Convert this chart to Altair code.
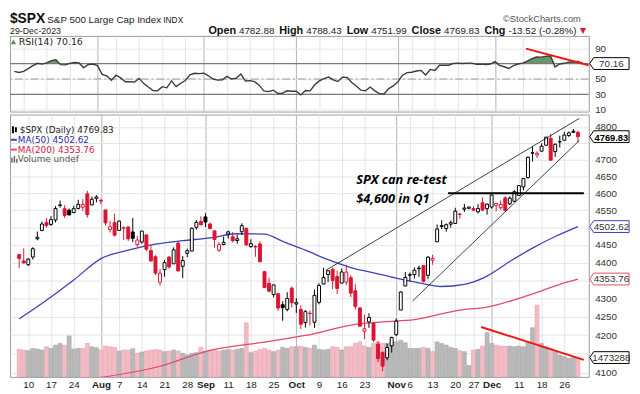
import json
import altair as alt
import pandas as pd

# ---------------- data ----------------
prev_close_first = 4446.82  # close before first candle

opens = [4422.62,4404.54,4394.23,4415.55,4467.69,4491.50,4514.61,4508.86,4521.78,4563.87,
         4554.38,4550.16,4543.39,4555.19,4558.96,4598.26,4565.75,4584.82,4578.83,4550.93,
         4494.27,4513.96,4491.58,4498.03,4501.57,4487.16,4450.69,4458.13,4478.87,4433.79,
         4416.32,4344.88,4380.28,4415.33,4396.44,4455.16,4389.38,4426.03,4432.75,4500.34,
         4517.01,4530.60,4510.06,4490.35,4434.55,4451.30,4480.98,4473.27,4462.65,4487.78,
         4497.98,4445.13,4445.41,4452.81,4374.36,4341.74,4310.62,4312.88,4282.63,4269.65,
         4328.18,4284.52,4269.75,4233.83,4259.31,4234.79,4289.02,4339.75,4366.59,4380.94,
         4360.49,4342.37,4345.23,4357.35,4321.36,4273.85,4210.40,4235.79,4232.42,4175.99,
         4152.93,4139.39,4171.33,4201.27,4268.26,4334.23,4364.27,4366.21,4384.37,4391.41,
         4364.15,4406.66,4458.97,4505.30,4497.08,4509.55,4511.70,4538.77,4553.04,4555.84,
         4554.86,4545.55,4571.84,4554.87,4559.43,4564.37,4557.25,4586.23,4568.84,4576.20,
         4593.39,4618.30,4646.20,4721.04,4714.23,4725.58,4743.72,4764.73,4724.29,4753.92,
         4758.86,4773.45,4786.44,4782.88]
highs = [4422.62,4440.39,4412.60,4443.64,4488.34,4517.38,4527.76,4532.85,4562.30,4578.43,
         4564.74,4555.00,4563.41,4580.62,4582.47,4607.07,4590.16,4594.22,4584.62,4550.93,
         4519.49,4540.34,4519.84,4503.31,4502.44,4527.37,4476.23,4490.33,4478.87,4449.95,
         4421.17,4381.82,4407.55,4418.59,4443.18,4458.30,4418.46,4439.56,4500.14,4521.65,
         4532.26,4541.25,4514.29,4490.35,4457.81,4473.53,4490.77,4487.11,4479.39,4511.99,
         4497.98,4466.36,4449.85,4461.03,4375.70,4357.40,4338.51,4313.01,4292.07,4317.27,
         4333.15,4300.58,4281.15,4268.50,4267.13,4324.10,4341.73,4385.46,4378.64,4385.85,
         4377.10,4383.33,4393.57,4364.20,4339.54,4276.56,4255.84,4259.38,4232.42,4183.60,
         4156.70,4177.47,4195.55,4245.64,4319.72,4373.62,4372.21,4386.26,4391.20,4393.40,
         4418.03,4421.76,4508.67,4521.17,4511.99,4520.12,4557.11,4542.14,4568.43,4560.31,
         4562.06,4568.14,4587.64,4569.89,4599.39,4572.37,4578.56,4590.74,4590.92,4609.23,
         4623.71,4643.93,4709.69,4738.57,4725.53,4749.52,4768.69,4778.01,4748.71,4772.94,
         4784.72,4785.39,4793.30,4788.43]
lows = [4385.05,4397.40,4389.92,4408.46,4463.23,4489.36,4499.56,4504.90,4514.59,4557.48,
        4527.56,4535.79,4541.29,4552.42,4547.58,4528.56,4564.01,4573.14,4567.53,4505.75,
        4485.54,4474.55,4491.15,4464.39,4461.33,4457.92,4443.98,4453.44,4432.19,4403.55,
        4364.83,4335.31,4360.30,4382.77,4396.44,4375.55,4356.29,4414.98,4431.68,4493.59,
        4507.39,4501.35,4496.01,4442.38,4430.46,4448.38,4467.89,4456.83,4453.52,4478.69,
        4447.21,4442.11,4416.61,4401.38,4329.17,4316.49,4302.70,4265.98,4238.63,4264.38,
        4274.86,4260.21,4216.45,4220.48,4225.91,4219.55,4283.79,4339.64,4345.34,4325.43,
        4311.97,4342.37,4337.54,4303.84,4269.69,4223.03,4189.22,4219.43,4181.42,4127.90,
        4103.78,4132.94,4153.12,4197.74,4268.26,4334.23,4347.53,4355.41,4359.76,4343.94,
        4353.34,4393.82,4458.97,4495.31,4487.83,4499.66,4510.36,4525.51,4545.05,4552.80,
        4546.50,4540.51,4547.15,4537.24,4554.71,4546.72,4551.68,4546.50,4565.22,4574.06,
        4593.39,4608.09,4643.23,4694.34,4704.69,4725.58,4743.72,4697.82,4708.35,4736.77,
        4758.45,4768.90,4780.98,4751.99]
closes = [4411.59,4398.95,4409.53,4439.26,4472.16,4510.04,4505.42,4522.79,4554.98,4565.72,
          4534.87,4536.34,4554.64,4567.46,4566.75,4537.41,4582.23,4588.96,4576.73,4513.39,
          4501.89,4478.03,4518.44,4499.38,4467.71,4468.83,4464.05,4489.72,4437.86,4404.33,
          4370.36,4369.71,4399.77,4387.55,4436.01,4376.31,4405.71,4433.31,4497.63,4514.87,
          4507.66,4515.77,4496.83,4465.48,4451.14,4457.49,4487.46,4461.90,4467.44,4505.10,
          4450.32,4453.53,4443.95,4402.20,4330.00,4320.06,4337.44,4273.53,4274.51,4299.70,
          4288.05,4288.39,4229.45,4263.75,4258.19,4308.50,4335.66,4358.24,4376.95,4349.61,
          4327.78,4373.63,4373.20,4314.60,4278.00,4224.16,4217.04,4247.68,4186.77,4137.23,
          4117.37,4166.82,4193.80,4237.86,4317.78,4358.34,4365.98,4378.38,4382.78,4347.35,
          4415.24,4411.55,4495.70,4502.88,4508.24,4514.02,4547.38,4538.19,4556.62,4559.34,
          4550.43,4554.89,4550.58,4567.80,4594.63,4569.78,4567.18,4549.34,4585.59,4604.37,
          4622.44,4643.70,4707.09,4719.55,4719.19,4740.56,4768.37,4698.35,4746.75,4754.63,
          4774.75,4781.58,4783.35,4769.83]
volumes = [2098000,2048000,1998000,2172000,2123000,2048000,2297000,2172000,2422000,2547000,
           2422000,3121000,2123000,2172000,2172000,2547000,2297000,2222000,2048000,2347000,
           2297000,2247000,1973000,2048000,2048000,2148000,1798000,1898000,1973000,2048000,
           2098000,2048000,1923000,1973000,2048000,1973000,1798000,1673000,1798000,1848000,
           2247000,1973000,2048000,2098000,1973000,2048000,2098000,2048000,2098000,2172000,
           4120000,1848000,1973000,2098000,2172000,2048000,1923000,2048000,2247000,2172000,
           2297000,2297000,2347000,2247000,2172000,2422000,2098000,2048000,2098000,2297000,
           2247000,2048000,2297000,2297000,2547000,2672000,2347000,2247000,2547000,2672000,
           2547000,2547000,2672000,2672000,2797000,2597000,2172000,2172000,2172000,2247000,
           2172000,1923000,2672000,2547000,2422000,2247000,2172000,1998000,1923000,874000,
           2048000,2098000,2347000,3371000,2547000,2422000,2347000,2347000,2347000,2297000,
           2347000,2297000,2672000,3746000,5469000,2547000,2297000,2172000,1923000,1673000,
           1548000,1423000,1473000,1473288]
rsi = [60.0,58.5,60.0,63.5,67.5,70.5,69.5,71.0,74.0,75.0,
       68.8,68.5,70.5,71.5,71.0,64.6,69.0,69.6,67.5,56.0,
       54.0,48.5,55.0,51.5,46.5,46.5,46.0,50.8,44.0,39.5,
       35.0,34.6,40.0,38.5,47.5,40.0,44.5,48.0,55.5,57.5,
       57.0,57.5,54.2,50.0,48.5,49.0,53.5,50.0,51.0,56.5,
       47.5,47.9,46.5,41.7,34.5,33.5,35.4,31.2,31.3,34.6,
       34.0,34.2,29.2,35.0,34.6,42.5,47.5,50.5,52.5,49.0,
       46.7,52.5,52.1,45.5,41.0,35.4,34.6,39.5,34.6,31.0,
       30.4,37.5,41.0,46.5,55.0,58.3,58.8,60.5,61.25,55.4,
       62.5,61.25,68.0,68.2,68.0,70.3,70.8,70.3,70.7,70.8,
       69.2,69.5,69.0,69.6,72.9,67.9,66.0,63.75,67.5,69.6,
       70.8,73.5,76.5,78.75,78.5,79.5,80.4,65.8,69.6,70.5,
       72.1,72.6,72.9,70.16]

ma50_idx = [0, 6, 12, 18, 24, 30, 36, 42, 48, 54, 58, 63, 68, 73, 78, 83, 88, 93, 98, 103, 108, 113, 118, 123]
ma50_val = [4244, 4295, 4351, 4411, 4435, 4452, 4462, 4470, 4482, 4481, 4460, 4435, 4408, 4386, 4371,
            4356, 4343, 4333, 4339, 4362, 4403, 4441, 4474, 4502.62]
ma200_idx = [17, 31, 41, 55, 63, 74, 80, 87, 97, 103, 110, 115, 120, 123]
ma200_val = [4086, 4117, 4156, 4183, 4199, 4229, 4236, 4242, 4268, 4276, 4300, 4321, 4343, 4353.76]

tick_idx = [2, 7, 12, 18, 22, 27, 32, 37, 41, 46, 51, 56, 61, 66, 71, 76, 83, 86, 91, 96, 100, 104, 110, 115, 120]
tick_text = ["10", "17", "24", "Aug", "7", "14", "21", "28", "Sep", "11", "18", "25", "Oct", "9",
             "16", "23", "Nov", "6", "13", "20", "27", "Dec", "11", "18", "26"]
month_idx = [18, 41, 61, 83, 104]
price_ticks = [4100, 4200, 4250, 4300, 4400, 4450, 4550, 4600, 4650, 4700, 4800]
grid_ticks = [4100, 4150, 4200, 4250, 4300, 4350, 4400, 4450, 4500, 4550, 4600, 4650, 4700, 4750, 4800]
rsi_ticks = [10, 30, 50, 90]

# annotation geometry (index, price)
channel_line = ["upper", "upper", "lower", "lower"]
channel_x = [67.5, 123.3, 86.6, 123.3]
channel_y = [4378, 4826, 4293, 4758]
level_x = [94.4, 124.3]
level_y = 4600
vol_trend_x = [101.7, 124.3]
vol_trend_y = [4222, 4134]
rsi_trend_x = [110.7, 124.3]
rsi_trend_y = [89.6, 68.0]
note_x = [74.2, 74.2]
note_y = [4638, 4584]
note_text = ["SPX can re-test", "$4,600 in Q1"]

# ---------------- styling ----------------
FONT = "Liberation Sans"
VFONT = "DejaVu Sans"
RED = "#dc1434"
BLACK = "#000000"
BLUE = "#4040bb"
MA_RED = "#e34a66"
VOL_GRAY, VOL_GRAY_S = "#b9b9b9", "#a2a2a2"
VOL_PINK, VOL_PINK_S = "#f3bcc5", "#e7a0ad"
W, H_RSI, H_MAIN = 589, 77, 267

N = len(closes)
prev = [prev_close_first] + closes[:-1]
df = pd.DataFrame(dict(i=list(range(N)), open=opens, high=highs, low=lows, close=closes, vol=volumes, rsi=rsi))
df["line_col"] = [RED if c < p else BLACK for c, p in zip(closes, prev)]
df["body_fill"] = ["#ffffff" if c > o else lc for c, o, lc in zip(closes, opens, df["line_col"])]
df["vol_fill"] = [VOL_PINK if c < p else VOL_GRAY for c, p in zip(closes, prev)]
df["vol_stroke"] = [VOL_PINK_S if c < p else VOL_GRAY_S for c, p in zip(closes, prev)]

month_test = "indexof(%s, datum.value) >= 0" % json.dumps(month_idx)
label_expr = "%s[indexof(%s, datum.value)]" % (json.dumps(tick_text), json.dumps(tick_idx))
grid_color = {"condition": {"test": month_test, "value": "#b2b2b2"}, "value": "#e3e3e3"}

x_scale = alt.Scale(domain=[-0.95, 124.3], nice=False, zero=False)
price_scale = alt.Scale(type="log", domain=[4089, 4838], nice=False)
vol_scale = alt.Scale(domain=[0, 20000000], nice=False, zero=True)
rsi_scale = alt.Scale(domain=[7.5, 106.25], nice=False, zero=False)

x_axis_main = alt.Axis(values=tick_idx, labelExpr=label_expr, grid=True, gridColor=grid_color,
                       ticks=False, domain=False, labelFont=FONT, labelFontSize=10, labelColor="#222",
                       labelFontWeight={"condition": {"test": month_test, "value": "bold"}, "value": "normal"},
                       labelPadding=3, labelOverlap=False, labelFlush=False, title=None)
x_axis_rsi = alt.Axis(values=tick_idx, grid=True, gridColor=grid_color, ticks=False, domain=False,
                      labels=False, title=None)


def MX(field="i"):
    return alt.X(field, type="quantitative", scale=x_scale, axis=x_axis_main)


def RX(field="i"):
    return alt.X(field, type="quantitative", scale=x_scale, axis=x_axis_rsi)


def PY(field, axis=None):
    return alt.Y(field, type="quantitative", scale=price_scale, axis=axis)


def RY(field, axis=None):
    return alt.Y(field, type="quantitative", scale=rsi_scale, axis=axis)


one = pd.DataFrame({"k": [0]})


def ptext(text, x, y, size=10, weight="normal", color="#222", font=FONT, align="left",
          baseline="alphabetic", style="normal"):
    return alt.Chart(one).mark_text(text=text, align=align, baseline=baseline, fontSize=size,
                                    fontWeight=weight, color=color, font=font, fontStyle=style).encode(
        x=alt.value(x), y=alt.value(y))


BOX_PATH = "M-1,0L-0.8,-0.3L1,-0.3L1,0.3L-0.8,0.3Z"

# ---------------- main panel ----------------
grid_axis = alt.Axis(orient="right", values=grid_ticks, grid=True, gridColor="#e3e3e3",
                     ticks=False, domain=False, labels=False, title=None)
price_axis = alt.Axis(orient="right", values=price_ticks, format="d", grid=False,
                      ticks=False, domain=False, labelFont=FONT, labelFontSize=10, labelColor="#333",
                      labelPadding=6, title=None)

base = alt.Chart(df)
grid_layer = base.mark_point(opacity=0).encode(x=MX(), y=PY("close:Q", grid_axis))
label_layer = base.mark_point(opacity=0).encode(x=MX(), y=PY("open:Q", price_axis))
vol_layer = base.mark_bar(size=4, strokeWidth=0.6).encode(
    x=MX(), y=alt.Y("vol:Q", scale=vol_scale, axis=None),
    fill=alt.Fill("vol_fill:N", scale=None), stroke=alt.Stroke("vol_stroke:N", scale=None))

ma50_df = pd.DataFrame({"i": ma50_idx, "v": ma50_val})
ma200_df = pd.DataFrame({"i": ma200_idx, "v": ma200_val})
ma50_layer = alt.Chart(ma50_df).mark_line(color=BLUE, strokeWidth=1.3, clip=True, interpolate="monotone").encode(
    x=MX(), y=PY("v:Q"))
ma200_layer = alt.Chart(ma200_df).mark_line(color=MA_RED, strokeWidth=1.3, clip=True, interpolate="monotone").encode(
    x=MX(), y=PY("v:Q"))

wick_layer = base.mark_rule(strokeWidth=1).encode(
    x=MX(), y=PY("low:Q"), y2="high:Q", stroke=alt.Stroke("line_col:N", scale=None))
body_layer = base.mark_bar(size=3, strokeWidth=1).encode(
    x=MX(), y=PY("open:Q"), y2="close:Q",
    fill=alt.Fill("body_fill:N", scale=None), stroke=alt.Stroke("line_col:N", scale=None))

chan_df = pd.DataFrame({"line": channel_line, "i": channel_x, "v": channel_y})
chan_layer = alt.Chart(chan_df).mark_line(color="#111", strokeWidth=0.8, clip=True).encode(
    x=MX(), y=PY("v:Q"), detail="line:N")
level_df = pd.DataFrame({"i": [level_x[0]], "i2": [level_x[1]], "v": [level_y]})
level_layer = alt.Chart(level_df).mark_rule(color="#000", strokeWidth=2).encode(
    x=MX(), x2="i2:Q", y=PY("v:Q"))
vtr_df = pd.DataFrame({"i": vol_trend_x, "v": vol_trend_y})
vtr_layer = alt.Chart(vtr_df).mark_line(color="#f01414", strokeWidth=2, clip=True).encode(x=MX(), y=PY("v:Q"))

note_df = pd.DataFrame({"i": note_x, "v": note_y, "t": note_text})
note_layer = alt.Chart(note_df).mark_text(align="left", baseline="middle", fontSize=13, fontWeight="bold",
                                          fontStyle="italic", font="Open Sans", color="#000").encode(
    x=MX(), y=PY("v:Q"), text="t:N")

legend_layers = [
    ptext("$SPX (Daily) 4769.83", 10, 15.7, size=9, color="#222", font=VFONT, baseline="middle"),
    ptext("MA(50) 4502.62", 8, 25.7, size=9, color="#2b2ba8", font=VFONT, baseline="middle"),
    ptext("MA(200) 4353.76", 8, 35.7, size=9, color="#d42040", font=VFONT, baseline="middle"),
    ptext("Volume undef", 8, 45.7, size=9, color="#555", font=VFONT, baseline="middle"),
    alt.Chart(one).mark_rule(color=BLUE, strokeWidth=2).encode(x=alt.value(1), x2=alt.value(7), y=alt.value(25.7)),
    alt.Chart(one).mark_rule(color=MA_RED, strokeWidth=2).encode(x=alt.value(1), x2=alt.value(7), y=alt.value(35.7)),
    alt.Chart(one).mark_rule(color="#000", strokeWidth=2).encode(x=alt.value(3), y=alt.value(12), y2=alt.value(19)),
    alt.Chart(one).mark_rule(color="#000", strokeWidth=2).encode(x=alt.value(6), y=alt.value(13), y2=alt.value(18)),
    alt.Chart(one).mark_rule(color="#666", strokeWidth=1.5).encode(x=alt.value(2), y=alt.value(44), y2=alt.value(49)),
    alt.Chart(one).mark_rule(color="#666", strokeWidth=1.5).encode(x=alt.value(4.5), y=alt.value(42), y2=alt.value(49)),
    alt.Chart(one).mark_rule(color="#666", strokeWidth=1.5).encode(x=alt.value(7), y=alt.value(45), y2=alt.value(49)),
]

box_px = 610
price_box_df = pd.DataFrame({"v": [closes[-1], ma50_val[-1], ma200_val[-1]],
                             "c": ["#000000", BLUE, MA_RED]})
price_boxes = alt.Chart(price_box_df).mark_point(shape=BOX_PATH, size=1600, filled=True, fill="white",
                                                 strokeWidth=1, opacity=1).encode(
    x=alt.value(box_px), y=PY("v:Q"), stroke=alt.Stroke("c:N", scale=None))
ma_box_df = pd.DataFrame({"v": [ma50_val[-1], ma200_val[-1]]})
price_box_text = alt.Chart(ma_box_df).mark_text(align="center", baseline="middle", fontSize=10,
                                                font=FONT, color="#333").encode(
    x=alt.value(box_px + 2), y=PY("v:Q"), text=alt.Text("v:Q", format=".2f"))
close_text = alt.Chart(pd.DataFrame({"v": [closes[-1]]})).mark_text(
    align="center", baseline="middle", fontSize=9.5, dy=1, font=FONT, fontWeight="bold", color="#000").encode(
    x=alt.value(box_px + 2), y=PY("v:Q"), text=alt.Text("v:Q", format=".2f"))
vol_box_df = pd.DataFrame({"v": [volumes[-1]], "t": [str(volumes[-1])]})
vol_box = alt.Chart(vol_box_df).mark_point(shape=BOX_PATH, size=1600, filled=True, fill="white",
                                           stroke="#000", strokeWidth=1, opacity=1).encode(
    x=alt.value(box_px), y=alt.Y("v:Q", scale=vol_scale, axis=None))
vol_box_text = alt.Chart(vol_box_df).mark_text(align="center", baseline="middle", fontSize=10,
                                               font=FONT, color="#333").encode(
    x=alt.value(box_px + 2), y=alt.Y("v:Q", scale=vol_scale, axis=None), text="t:N")

main = alt.layer(
    grid_layer, label_layer, vol_layer, ma50_layer, ma200_layer, wick_layer, body_layer,
    chan_layer, level_layer, vtr_layer, note_layer, *legend_layers,
    price_boxes, price_box_text, close_text, vol_box, vol_box_text,
).resolve_scale(y="independent").properties(width=W, height=H_MAIN)

# ---------------- RSI panel ----------------
rsi_axis = alt.Axis(orient="right", values=rsi_ticks, grid=True, gridColor="#e3e3e3", ticks=False,
                    domain=False, labelFont=FONT, labelFontSize=10, labelColor="#333",
                    labelPadding=6, title=None)
rbase = alt.Chart(df)
rsi_fill = rbase.transform_calculate(top="max(datum.rsi, 70)").mark_area(color="#6a976a", opacity=1).encode(
    x=RX(), y=RY("top:Q", rsi_axis), y2=alt.datum(70))
lvl_df = pd.DataFrame({"v": [30, 70]})
rsi_lvls = alt.Chart(lvl_df).mark_rule(color="#7a7a7a", strokeWidth=1.3).encode(y=RY("v:Q"))
rsi_mid = alt.Chart(pd.DataFrame({"v": [50]})).mark_rule(color="#9a9a9a", strokeWidth=1.2,
                                                        strokeDash=[8, 3, 2, 3]).encode(y=RY("v:Q"))
rsi_line = rbase.mark_line(color="#3a3a3a", strokeWidth=1.4).encode(x=RX(), y=RY("rsi:Q"))
rtr_df = pd.DataFrame({"i": rsi_trend_x, "v": rsi_trend_y})
rsi_trend = alt.Chart(rtr_df).mark_line(color="#f01414", strokeWidth=2, clip=True).encode(x=RX(), y=RY("v:Q"))
rsi_box_df = pd.DataFrame({"v": [rsi[-1]]})
rsi_box = alt.Chart(rsi_box_df).mark_point(shape=BOX_PATH, size=1600, filled=True, fill="white",
                                           stroke="#000", strokeWidth=1, opacity=1).encode(
    x=alt.value(box_px), y=RY("v:Q"))
rsi_box_text = alt.Chart(rsi_box_df).mark_text(align="center", baseline="middle", fontSize=10,
                                               font=FONT, color="#333").encode(
    x=alt.value(box_px + 2), y=RY("v:Q"), text=alt.Text("v:Q", format=".2f"))

header = [
    ptext("$SPX", 0, -13, size=14, weight="bold", color="#111", font=FONT),
    ptext("S&P 500 Large Cap Index", 38, -13, size=10, color="#222", font=FONT),
    ptext("INDX", 156, -13, size=8.5, color="#222", font=FONT),
    ptext("©StockCharts.com", 581, -14, size=9.5, color="#555", font=FONT, align="right"),
    ptext("29-Dec-2023", 0, -1.5, size=9, color="#222", font=FONT),
    ptext("Open", 202, -2, size=11, weight="bold", color="#111", font=FONT),
    ptext("4782.88", 233, -2, size=10, color="#222", font=FONT),
    ptext("High", 274, -2, size=11, weight="bold", color="#111", font=FONT),
    ptext("4788.43", 301.5, -2, size=10, color="#222", font=FONT),
    ptext("Low", 342.6, -2, size=11, weight="bold", color="#111", font=FONT),
    ptext("4751.99", 367.6, -2, size=10, color="#222", font=FONT),
    ptext("Close", 408.7, -2, size=11, weight="bold", color="#111", font=FONT),
    ptext("4769.83", 441.7, -2, size=10, color="#222", font=FONT),
    ptext("Chg", 482.8, -2, size=11, weight="bold", color="#111", font=FONT),
    ptext("-13.52 (-0.28%)", 507.2, -2, size=10, color="#222", font=FONT),
    ptext("\u25BC", 580, -3, size=8, color=RED, font=VFONT),
    ptext("RSI(14) 70.16", 9, 6, size=9.5, color="#222", font=VFONT, baseline="middle"),
    alt.Chart(one).mark_point(shape="triangle-up", size=30, filled=True, color="#5e8c5e", opacity=1).encode(
        x=alt.value(3.5), y=alt.value(6)),
]

rsi_panel = alt.layer(
    rsi_fill, rsi_lvls, rsi_mid, rsi_line, rsi_trend, rsi_box, rsi_box_text, *header
).resolve_scale(y="independent").properties(width=W, height=H_RSI)

chart = alt.vconcat(rsi_panel, main, spacing=3, bounds="flush").properties(
    padding={"left": 0, "top": 0, "right": 0, "bottom": 0}, background="white"
).configure_view(stroke="#9a9a9a", strokeWidth=1)

chart.save("out.html", embed_options={"renderer": "svg", "actions": False})
